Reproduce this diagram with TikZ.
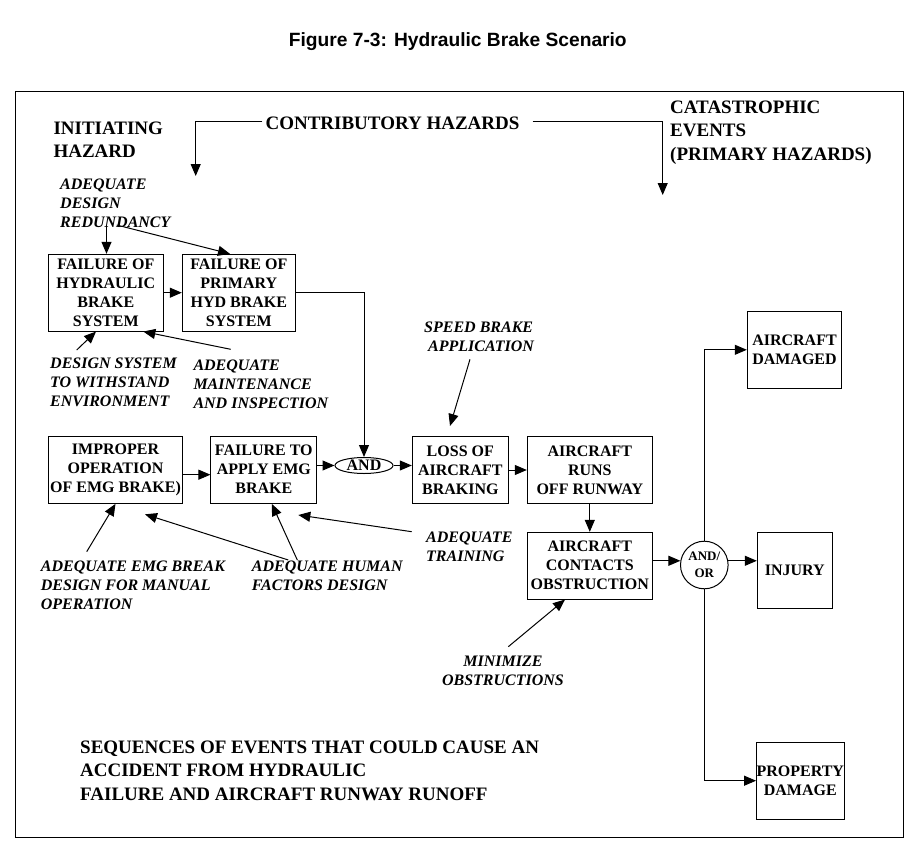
\documentclass[tikz,border=0pt]{standalone}
\usepackage{fontspec}
\setmainfont{Liberation Serif}
\newfontfamily\arialf{Liberation Sans}
\usetikzlibrary{arrows.meta,shapes.geometric}
\newcommand\boxfnt{\fontsize{16}{19}\selectfont\bfseries}
\newcommand\labfnt{\fontsize{16}{19}\selectfont\bfseries\itshape}
\newcommand\hdrfnt{\fontsize{19}{23.3}\selectfont\bfseries}
\newcommand\gatefnt{\fontsize{13}{16.5}\selectfont\bfseries}
\newcommand\ttlfnt{\arialf\fontsize{19.2}{23}\selectfont\bfseries}
\tikzset{
  box/.style={draw, line width=1pt, inner sep=0pt, align=center, font=\boxfnt},
  lab/.style={inner sep=0pt, align=left, font=\labfnt, anchor=west},
  hdr/.style={inner sep=0pt, align=left, font=\hdrfnt},
  arr/.style={line width=1pt, -{Triangle[length=12pt,width=10pt]}},
  ln/.style={line width=1pt}
}
\begin{document}
\begin{tikzpicture}[x=1pt,y=1pt]
\useasboundingbox (0,0) rectangle (913,-859);
\draw[ln] (15.5,-91.5) rectangle (903.5,-837.5);
\node[font=\ttlfnt, anchor=base, inner sep=0pt] (title) at (457.8,-46.7) {Figure 7-3: Hydraulic Brake Scenario};
% headers
\node[hdr, anchor=west] (IH) at (53.3,-140) {INITIATING\\HAZARD};
\node[hdr, anchor=base, inner xsep=3pt] (CH) at (392.5,-129.6) {CONTRIBUTORY HAZARDS};
\node[hdr, anchor=west] (CE) at (670,-132.5) {CATASTROPHIC\\EVENTS\\(PRIMARY HAZARDS)};
\coordinate (ct1) at (195.7,-176);
\coordinate (ct2) at (662.7,-195);
\draw[arr] ([yshift=2pt]CH.west) -| (ct1);
\draw[arr] ([xshift=10pt,yshift=2pt]CH.east) -| (ct2);
% boxes
\node[box, minimum width=115pt, minimum height=76.7pt] (B1) at (105.8,-292.7) {FAILURE OF\\HYDRAULIC\\BRAKE\\SYSTEM};
\node[box, minimum width=113pt, minimum height=76.7pt] (B2) at (238.8,-292.7) {FAILURE OF\\PRIMARY\\HYD BRAKE\\SYSTEM};
\node[box, minimum width=134.4pt, minimum height=67.3pt] (B3) at (115.5,-469.7) {IMPROPER\\OPERATION\\OF EMG BRAKE)};
\node[box, minimum width=105.7pt, minimum height=67.3pt] (B4) at (263.8,-469.7) {FAILURE TO\\APPLY EMG\\BRAKE};
\node[draw, ellipse, line width=1pt, inner sep=0pt, minimum width=58pt, minimum height=16pt, font=\boxfnt] (AND) at (364,-465.5) {AND};
\node[box, minimum width=96pt, minimum height=66.6pt] (B5) at (460.3,-470) {LOSS OF\\AIRCRAFT\\BRAKING};
\node[box, minimum width=125pt, minimum height=66.6pt] (B6) at (589.8,-470) {AIRCRAFT\\RUNS\\OFF RUNWAY};
\node[box, minimum width=125pt, minimum height=66.7pt] (B7) at (589.8,-565.7) {AIRCRAFT\\CONTACTS\\OBSTRUCTION};
\node[draw, circle, line width=1pt, inner sep=0pt, minimum size=47.6pt, align=center, font=\gatefnt] (OR) at (704.3,-565) {AND/\\OR};
\node[box, minimum width=94.4pt, minimum height=77pt] (DAM) at (794.5,-349.8) {AIRCRAFT\\DAMAGED};
\node[box, minimum width=75pt, minimum height=76pt] (INJ) at (794.8,-570.3) {INJURY};
\node[box, minimum width=86pt, minimum height=76.7pt] (PROP) at (800.3,-780.7) {PROPERTY\\DAMAGE};
% labels
\node[lab] (ADR) at (60,-202.8) {ADEQUATE\\DESIGN\\REDUNDANCY};
\node[lab] (DSW) at (50,-382.8) {DESIGN SYSTEM\\TO WITHSTAND\\ENVIRONMENT};
\node[lab] (AMI) at (193.3,-384) {ADEQUATE\\MAINTENANCE\\AND INSPECTION};
\node[lab] (SBA) at (424,-336.7) {SPEED BRAKE\\\hspace*{4pt}APPLICATION};
\node[lab] (AT) at (426,-546.7) {ADEQUATE\\TRAINING};
\node[lab, anchor=center, align=center] (MO) at (503,-671.3) {MINIMIZE\\OBSTRUCTIONS};
\node[lab] (AEB) at (40.7,-585) {ADEQUATE EMG BREAK\\DESIGN FOR MANUAL\\OPERATION};
\node[lab] (AHF) at (251.7,-575.8) {ADEQUATE HUMAN\\FACTORS DESIGN};
\node[hdr, anchor=west] (SEQ) at (80,-770.7) {SEQUENCES OF EVENTS THAT COULD CAUSE AN\\ACCIDENT FROM HYDRAULIC\\FAILURE AND AIRCRAFT RUNWAY RUNOFF};
% main flow
\draw[arr] (B1) -- (B2);
\draw[arr] (B2.east) -| (AND.north);
\draw[arr] ([yshift=-5pt]B3.east) -- ([yshift=-5pt]B4.west);
\draw[arr] (B4.east |- AND.west) -- (AND.west);
\draw[arr] (AND.east) -- (AND.east -| B5.west);
\draw[arr] (B5) -- (B6);
\draw[arr] (B6) -- (B7);
\draw[arr] (B7.east |- OR.170) -- (OR.170);
\draw[arr] (OR.10) -- (OR.10 -| INJ.west);
\draw[arr] (OR.north) |- (DAM.west);
\draw[arr] (OR.south) |- (PROP.west);
% label arrows
\coordinate (r1) at (106.5,-225);
\draw[arr] (r1) -- (r1 |- B1.north);
\coordinate (r2) at (116.7,-225);
\draw[arr] (r2) -- ([xshift=-8.8pt]B2.north);
\coordinate (d1) at (76.7,-350);
\draw[arr] (d1) -- ([xshift=-9.8pt]B1.south);
\coordinate (m1) at (230.7,-349.3);
\draw[arr] (m1) -- ([xshift=37.5pt]B1.south);
\coordinate (s1) at (470,-359.3);
\coordinate (s2) at (450,-426);
\draw[arr] (s1) -- (s2);
\coordinate (e1) at (86.7,-551.7);
\draw[arr] (e1) -- (B3.south);
\coordinate (h1) at (288.3,-560);
\coordinate (h2) at (145,-514.3);
\draw[arr] (h1) -- (h2);
\coordinate (h3) at (297.3,-560);
\draw[arr] (h3) -- ([xshift=8pt]B4.south);
\coordinate (t1) at (411.7,-531.7);
\coordinate (t2) at (298.3,-515);
\draw[arr] (t1) -- (t2);
\coordinate (o1) at (508.3,-646.7);
\draw[arr] (o1) -- ([xshift=-24.8pt]B7.south);
\end{tikzpicture}
\end{document}
